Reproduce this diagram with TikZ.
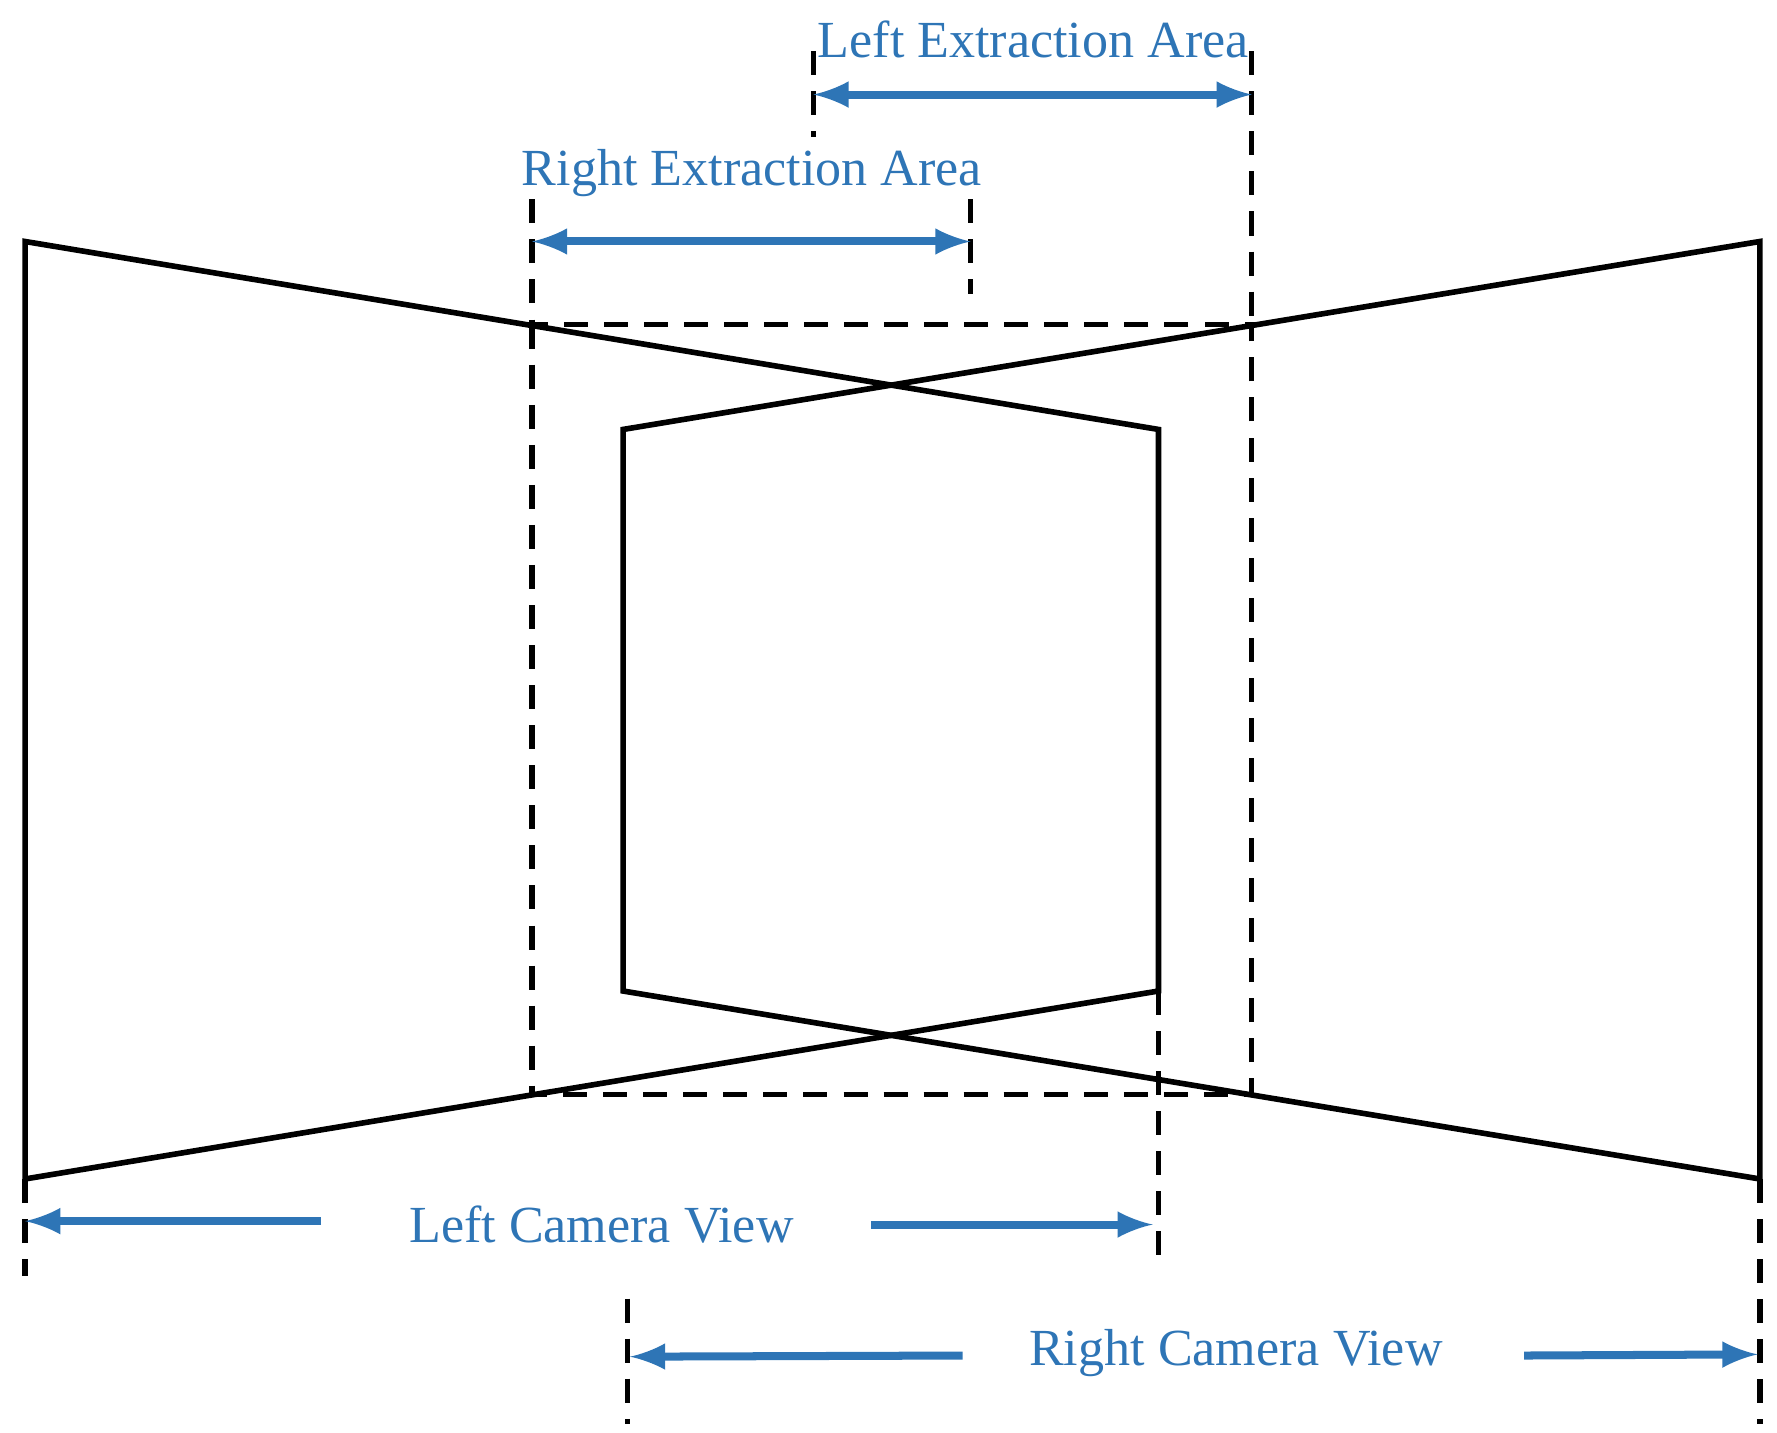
\documentclass[tikz,border=0pt]{standalone}
\usepackage{fontspec}
\setmainfont{Liberation Serif}
\usetikzlibrary{calc}
\usetikzlibrary{positioning}
\definecolor{dimblue}{RGB}{46,117,182}
\tikzset{
    view/.style={line width=1.4pt, black},
    guide/.style={line width=1.3pt, black, dash pattern=on 6pt off 4pt},
    span/.style={line width=2pt, dimblue, -latex},
    caption/.style={text=dimblue, font=\fontsize{13}{15}\selectfont, inner sep=0pt}
}
\begin{document}
\begin{tikzpicture}[x=0.01cm, y=-0.01cm]
    \useasboundingbox (0,0) rectangle (1560,1258);

    % camera views and overlap
    \draw [view] (22,212) -- (1017,377) -- (1017,870) -- (22,1035) -- cycle;
    \draw [view] (1545,212) -- (547,377) -- (547,870) -- (1545,1035) -- cycle;
    \draw [guide] (467,285) rectangle (1099,961);

    % guide lines
    \coordinate (rxa) at (467,212);
    \coordinate (rxb) at (852,212);
    \coordinate (lxa) at (714,83);
    \coordinate (lxb) at (1099,83);
    \draw [guide] (467,175) -- (467,285);
    \draw [guide] (852,175) -- (852,258);
    \draw [guide] (714,45) -- (714,120);
    \draw [guide] (1099,45) -- (1099,285);
    \draw [guide] (22,1035) -- (22,1120);
    \draw [guide] (1017,870) -- (1017,1115);
    \draw [guide] (551,1140) -- (551,1250);
    \draw [guide] (1545,1035) -- (1545,1250);

    % labels
    \node [caption] (lext) at (907,35) {Left Extraction Area};
    \node [caption] (rext) at (660,152) {Right Extraction Area};
    \node [caption] (lcam) at (528,1075) {Left Camera View};
    \node [caption] (rcam) at (1085,1188) {Right Camera View};

    % extents
    \draw [span, latex-latex] (lxa) -- (lxb);
    \draw [span, latex-latex] (rxa) -- (rxb);
    \coordinate (lc1) at (282,1072);
    \coordinate (lc2) at (22,1072);
    \coordinate (lc3) at (765,1075);
    \coordinate (lc4) at (1012,1075);
    \draw [span] (lc1) -- (lc2);
    \draw [span] (lc3) -- (lc4);
    \coordinate (rc1) at (845,1190);
    \coordinate (rc2) at (553,1191);
    \coordinate (rc3) at (1338,1190);
    \coordinate (rc4) at (1543,1189);
    \draw [span] (rc1) -- (rc2);
    \draw [span] (rc3) -- (rc4);
\end{tikzpicture}
\end{document}
